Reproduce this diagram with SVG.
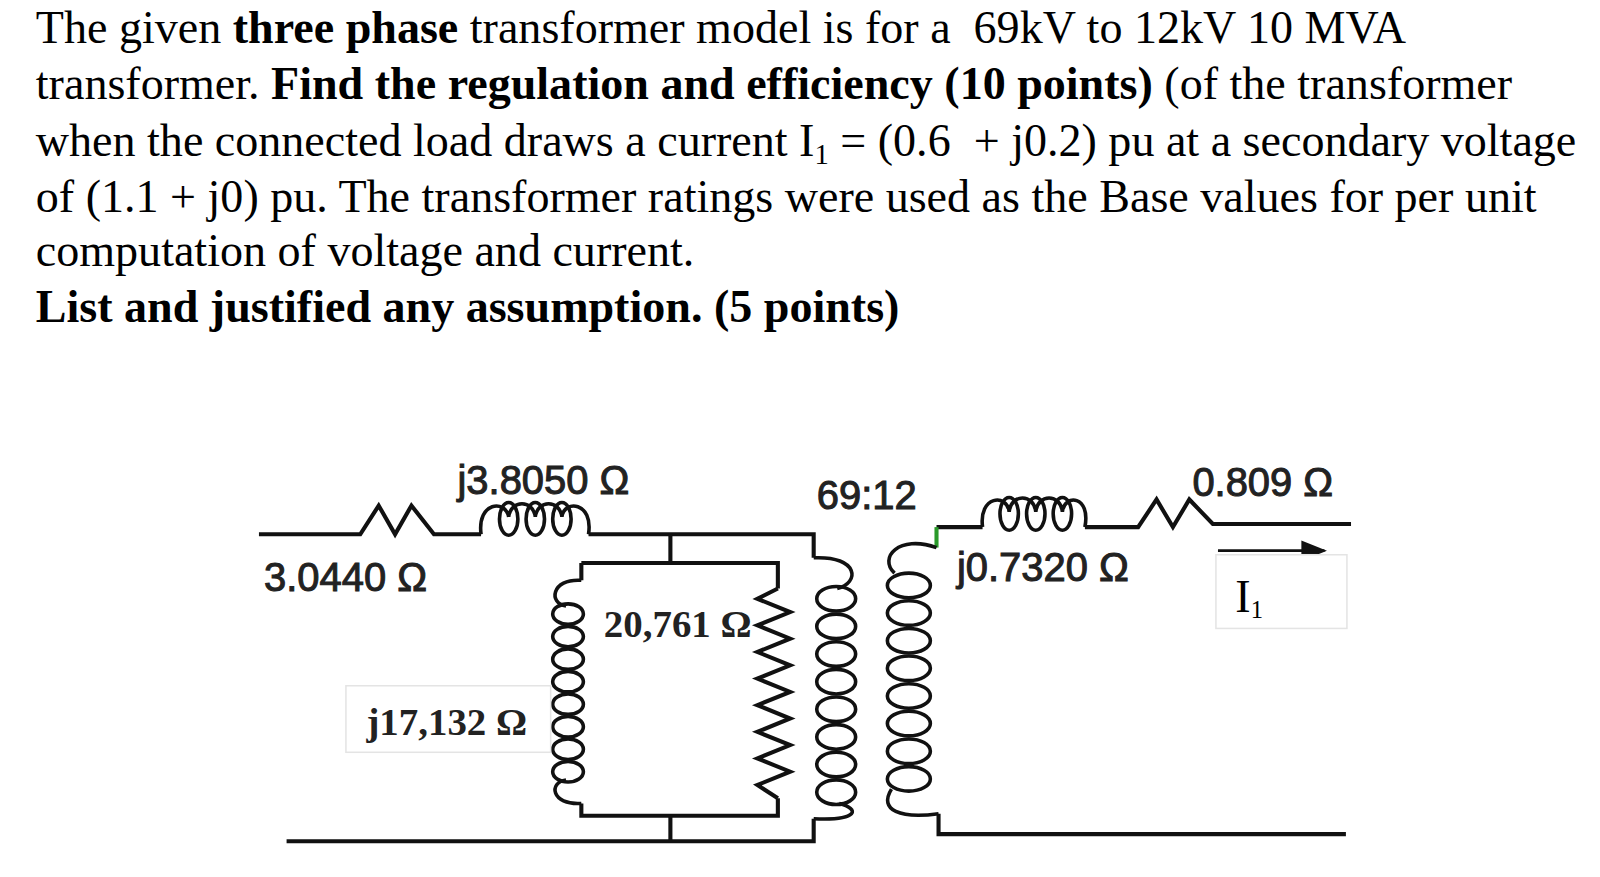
<svg xmlns="http://www.w3.org/2000/svg" width="1600" height="877" viewBox="0 0 1600 877">
<style>
.t{font-family:"Liberation Serif",serif;font-size:45px;fill:#000;white-space:pre}
.a{font-family:"Liberation Sans",Arial,sans-serif;font-size:39px;fill:#222;stroke:#222;stroke-width:1}
.tb{font-family:"Liberation Serif",serif;font-size:38px;font-weight:bold;fill:#222}
.w{fill:none;stroke:#111;stroke-width:4}
.c{fill:none;stroke:#111;stroke-width:3.5}
.box{fill:#fff;stroke:#e4e4e4;stroke-width:1.5}
</style>
<defs><marker id="ar" markerWidth="10" markerHeight="8" refX="9" refY="4" orient="auto"><path d="M0,0L10,4L0,8z" fill="#111"/></marker></defs>
<rect width="1600" height="877" fill="#fff"/>
<g transform="scale(1.0235)">
<g id="text">
<text class="t" x="35" y="42">The given <tspan font-weight="bold">three phase</tspan> transformer model is for a  69kV to 12kV 10 MVA</text>
<text class="t" x="35" y="97">transformer. <tspan font-weight="bold">Find the regulation and efficiency (10 points)</tspan> (of the transformer</text>
<text class="t" x="35" y="152">when the connected load draws a current I<tspan font-size="28" dy="8">1</tspan><tspan dy="-8"> = (0.6  + j0.2) pu at a secondary voltage</tspan></text>
<text class="t" x="35" y="207">of (1.1 + j0) pu. The transformer ratings were used as the Base values for per unit</text>
<text class="t" x="35" y="260">computation of voltage and current.</text>
<text class="t" x="35" y="315" font-weight="bold">List and justified any assumption. (5 points)</text>
</g>
<g id="connectors">
<path class="w" d="M253,522H352L370,494L386,522L402,494L424,522H470"/>
<path class="w" d="M575,522H795V545"/>
<path class="w" d="M655,522V550M568,550H760V575M568,550V567"/>
<path class="w" d="M568,785V797H760V780M655,797V822M280,822H795V800"/>
<path class="w" d="M915,515H960M1060,515H1112L1130,488L1146,515L1162,488L1185,512H1320"/>
<path d="M915,515V535" stroke="#2a9a2a" stroke-width="4"/>
<path class="w" d="M917,795V815H1315"/>
<path class="w" d="M760,575L740,585L772,598L740,611L772,624L740,637L772,650L740,663L772,676L740,689L772,702L740,715L772,728L740,741L772,754L740,767L760,780"/>
<line x1="1190" y1="538" x2="1294" y2="538" stroke="#111" stroke-width="2.5" marker-end="url(#ar)"/>
</g>
<g id="L1" class="c">
<path d="M470,522C466,490 494,488 497,505M497,505C499,488 521,488 523,505M523,505C525,488 547,488 549,505M549,505C551,488 580,490 575,522"/>
<ellipse cx="497" cy="507" rx="9" ry="16"/><ellipse cx="523" cy="507" rx="9" ry="16"/><ellipse cx="549" cy="507" rx="9" ry="16"/>
</g>
<g id="L2" class="c">
<path d="M960,515C956,484 984,482 986,500M986,500C988,482 1010,482 1012,500M1012,500C1014,482 1036,482 1038,500M1038,500C1040,482 1066,484 1060,515"/>
<ellipse cx="986" cy="502" rx="9" ry="16"/><ellipse cx="1012" cy="502" rx="9" ry="16"/><ellipse cx="1038" cy="502" rx="9" ry="16"/>
</g>
<g id="Lm" class="c">
<path d="M568,567C538,565 536,590 553,592"/>
<ellipse cx="555" cy="600" rx="15" ry="10"/><ellipse cx="555" cy="622" rx="15" ry="10"/><ellipse cx="555" cy="644" rx="15" ry="10"/><ellipse cx="555" cy="666" rx="15" ry="10"/><ellipse cx="555" cy="688" rx="15" ry="10"/><ellipse cx="555" cy="710" rx="15" ry="10"/><ellipse cx="555" cy="732" rx="15" ry="10"/><ellipse cx="555" cy="754" rx="15" ry="10"/>
<path d="M553,762C536,764 538,787 568,785"/>
</g>
<g id="P" class="c">
<path d="M795,545C840,543 840,570 818,575"/>
<ellipse cx="817" cy="585" rx="19" ry="12"/><ellipse cx="817" cy="612" rx="19" ry="12"/><ellipse cx="817" cy="639" rx="19" ry="12"/><ellipse cx="817" cy="666" rx="19" ry="12"/><ellipse cx="817" cy="693" rx="19" ry="12"/><ellipse cx="817" cy="720" rx="19" ry="12"/><ellipse cx="817" cy="747" rx="19" ry="12"/><ellipse cx="817" cy="774" rx="19" ry="12"/>
<path d="M820,785C840,790 840,802 795,800"/>
</g>
<g id="S" class="c">
<path d="M915,535C878,522 858,545 874,560"/>
<ellipse cx="888" cy="572" rx="21" ry="12"/><ellipse cx="888" cy="599" rx="21" ry="12"/><ellipse cx="888" cy="626" rx="21" ry="12"/><ellipse cx="888" cy="653" rx="21" ry="12"/><ellipse cx="888" cy="680" rx="21" ry="12"/><ellipse cx="888" cy="707" rx="21" ry="12"/><ellipse cx="888" cy="734" rx="21" ry="12"/><ellipse cx="888" cy="761" rx="21" ry="12"/>
<path d="M871,771C858,792 880,800 917,795"/>
</g>
<g id="labels">
<text class="a" x="447" y="483">j3.8050 Ω</text>
<text class="a" x="798" y="497">69:12</text>
<text class="a" x="1165" y="485">0.809 Ω</text>
<text class="a" x="258" y="577">3.0440 Ω</text>
<text class="a" x="935" y="568">j0.7320 Ω</text>
<text class="tb" x="590" y="622">20,761 Ω</text>
<rect class="box" x="338" y="670" width="200" height="65"/>
<text class="tb" x="358" y="718">j17,132 Ω</text>
<rect class="box" x="1188" y="542" width="128" height="72"/>
<text class="t" x="1207" y="598">I<tspan font-size="24" dy="6">1</tspan></text>
</g>
</g>
</svg>
